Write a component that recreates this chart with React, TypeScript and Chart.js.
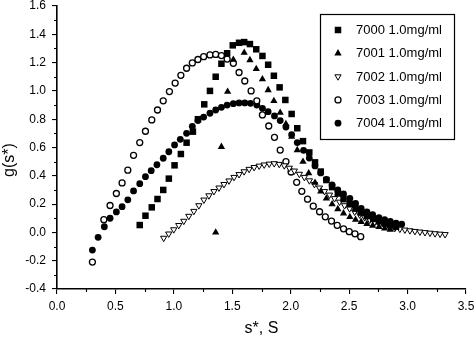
import { useEffect, useRef } from "react";
import { Chart, registerables } from "chart.js";
import { drawPoint } from "chart.js/helpers";

Chart.register(...registerables);

const seriesLabels = ["7000 1.0mg/ml", "7001 1.0mg/ml", "7002 1.0mg/ml", "7003 1.0mg/ml", "7004 1.0mg/ml"];

const s7000 = [0.708,0.757,0.811,0.860,0.909,0.957,1.006,1.060,1.109,1.163,1.206,1.260,1.309,1.358,1.407,1.456,1.504,1.558,1.602,1.651,1.705,1.758,1.807,1.856,1.905,1.954,2.008,2.056,2.105,2.159,2.208,2.257,2.305,2.354,2.403,2.452,2.506,2.555,2.603,2.652,2.706,2.755,2.804,2.852,2.901];
const g7000 = [0.052,0.118,0.177,0.236,0.3,0.38,0.474,0.554,0.634,0.712,0.8,0.905,1.0,1.1,1.192,1.266,1.322,1.34,1.345,1.331,1.294,1.247,1.185,1.107,1.025,0.936,0.837,0.736,0.645,0.565,0.495,0.43,0.37,0.32,0.275,0.235,0.2,0.168,0.14,0.115,0.095,0.078,0.062,0.05,0.04];

const s7001 = [1.358,1.407,1.460,1.509,1.602,1.651,1.705,1.758,1.807,1.856,1.910,1.959,2.008,2.056,2.105,2.154,2.208,2.257,2.305,2.354,2.403,2.452,2.506,2.555,2.603,2.652,2.701,2.755,2.804,2.852];
const g7001 = [0.0,0.605,0.995,1.22,1.27,1.218,1.155,1.083,1.006,0.929,0.846,0.766,0.676,0.582,0.5,0.418,0.351,0.29,0.24,0.2,0.165,0.135,0.11,0.09,0.075,0.06,0.048,0.038,0.028,0.02];

const s7002 = [0.913,0.956,0.999,1.042,1.085,1.128,1.171,1.214,1.257,1.300,1.343,1.386,1.429,1.472,1.515,1.558,1.601,1.644,1.687,1.730,1.773,1.816,1.859,1.902,1.945,1.988,2.031,2.074,2.117,2.160,2.203,2.246,2.289,2.332,2.375,2.418,2.461,2.504,2.547,2.590,2.633,2.676,2.719,2.762,2.805,2.848,2.891,2.934,2.977,3.020,3.063,3.106,3.149,3.192,3.235,3.278,3.321];
const g7002 = [-0.04,-0.01,0.02,0.05,0.08,0.115,0.15,0.19,0.23,0.26,0.29,0.315,0.34,0.365,0.39,0.41,0.43,0.447,0.46,0.47,0.478,0.484,0.487,0.482,0.472,0.455,0.435,0.412,0.39,0.366,0.34,0.315,0.29,0.265,0.24,0.215,0.19,0.168,0.145,0.125,0.105,0.088,0.072,0.058,0.047,0.038,0.03,0.024,0.018,0.013,0.008,0.004,0.0,-0.004,-0.008,-0.011,-0.014];

const s7003 = [0.303,0.401,0.454,0.508,0.557,0.606,0.655,0.708,0.757,0.811,0.860,0.909,0.962,1.011,1.060,1.109,1.158,1.206,1.255,1.309,1.358,1.407,1.456,1.509,1.558,1.607,1.661,1.710,1.758,1.812,1.861,1.910,1.959,2.003,2.051,2.095,2.144,2.193,2.247,2.296,2.349,2.398,2.452,2.501,2.550,2.599];
const g7003 = [-0.21,0.09,0.19,0.275,0.35,0.44,0.545,0.635,0.715,0.795,0.865,0.93,0.995,1.055,1.11,1.16,1.198,1.222,1.242,1.254,1.258,1.25,1.225,1.195,1.13,1.07,1.0,0.93,0.83,0.752,0.672,0.582,0.5,0.427,0.354,0.29,0.235,0.185,0.146,0.11,0.08,0.05,0.025,0.005,-0.01,-0.03];

const s7004 = [0.303,0.352,0.405,0.454,0.508,0.557,0.606,0.655,0.708,0.757,0.806,0.855,0.909,0.957,1.006,1.055,1.109,1.158,1.206,1.255,1.309,1.358,1.407,1.456,1.509,1.558,1.607,1.656,1.710,1.758,1.807,1.861,1.910,1.959,2.008,2.056,2.110,2.159,2.208,2.257,2.305,2.354,2.403,2.452,2.506,2.555,2.603,2.652,2.701,2.755,2.804,2.852,2.901,2.950];
const g7004 = [-0.125,-0.035,0.04,0.1,0.145,0.182,0.23,0.293,0.344,0.394,0.436,0.478,0.524,0.57,0.618,0.658,0.7,0.75,0.79,0.815,0.842,0.865,0.884,0.9,0.91,0.915,0.915,0.912,0.9,0.877,0.853,0.823,0.79,0.745,0.69,0.635,0.58,0.525,0.47,0.42,0.375,0.335,0.3,0.272,0.24,0.205,0.17,0.145,0.125,0.105,0.09,0.078,0.066,0.058];

const yMinorTicks = [-0.3,-0.1,0.1,0.3,0.5,0.7,0.9,1.1,1.3,1.5];
const xMinorTicks = [0.25,0.75,1.25,1.75,2.25,2.75,3.25];

const xTitle = "s*, S";
const yTitle = "g(s*)";

const FONT = "'Liberation Sans', Arial, sans-serif";

const styles = [
  { pointStyle: "rect", radius: 4.6, rotation: 0, fill: "#000", borderWidth: 0 },
  { pointStyle: "triangle", radius: 4.2, rotation: 0, fill: "#000", borderWidth: 0 },
  { pointStyle: "triangle", radius: 3.6, rotation: 180, fill: "#fff", borderWidth: 1 },
  { pointStyle: "circle", radius: 3.0, rotation: 0, fill: "#fff", borderWidth: 1.3 },
  { pointStyle: "circle", radius: 3.4, rotation: 0, fill: "#000", borderWidth: 0 },
];

const zip = (xs: number[], ys: number[]) => xs.map((x, i) => ({ x, y: ys[i] }));

const extras = {
  id: "extras",
  afterDraw(chart: any) {
    const { ctx, chartArea, scales } = chart;
    const x = scales.x;
    const y = scales.y;
    ctx.save();
    ctx.strokeStyle = "#000";
    ctx.lineWidth = 1.1;
    ctx.beginPath();
    yMinorTicks.forEach((v) => {
      const py = Math.round(y.getPixelForValue(v)) + 0.5;
      ctx.moveTo(chartArea.left - 3, py);
      ctx.lineTo(chartArea.left, py);
    });
    xMinorTicks.forEach((v) => {
      const px = Math.round(x.getPixelForValue(v)) + 0.5;
      ctx.moveTo(px, chartArea.bottom);
      ctx.lineTo(px, chartArea.bottom + 3);
    });
    ctx.stroke();

    ctx.fillStyle = "#000";
    ctx.font = `16px ${FONT}`;
    ctx.textAlign = "center";
    ctx.textBaseline = "middle";
    ctx.fillText(xTitle, (chartArea.left + chartArea.right) / 2, 329);
    ctx.save();
    ctx.translate(10, 160);
    ctx.rotate(-Math.PI / 2);
    ctx.fillText(yTitle, 0, 0);
    ctx.restore();

    const bx = 320, by = 14, bw = 134, bh = 125;
    ctx.lineWidth = 1.2;
    ctx.strokeStyle = "#000";
    ctx.strokeRect(bx + 0.5, by + 0.5, bw, bh);
    ctx.font = `13px ${FONT}`;
    ctx.textAlign = "left";
    ctx.textBaseline = "middle";
    seriesLabels.forEach((label, i) => {
      const ry = by + 16 + i * 23.3;
      const st = styles[i];
      ctx.fillStyle = st.fill;
      ctx.strokeStyle = "#000";
      ctx.lineWidth = st.borderWidth || 0;
      drawPoint(ctx, { pointStyle: st.pointStyle, radius: st.radius, rotation: st.rotation, borderWidth: st.borderWidth } as any, 338, ry);
      ctx.fillStyle = "#000";
      ctx.fillText(label, 356, ry + 0.5);
    });
    ctx.restore();
  },
};

export default function App() {
  const ref = useRef<HTMLCanvasElement | null>(null);
  useEffect(() => {
    if (!ref.current) return;
    const sets = [zip(s7000, g7000), zip(s7001, g7001), zip(s7002, g7002), zip(s7003, g7003), zip(s7004, g7004)];
    const chart = new Chart(ref.current, {
      type: "scatter",
      data: {
        datasets: sets.map((d, i) => ({
          label: seriesLabels[i],
          data: d,
          pointStyle: styles[i].pointStyle as any,
          pointRadius: styles[i].radius,
          pointRotation: styles[i].rotation,
          pointBackgroundColor: styles[i].fill,
          pointBorderColor: "#000",
          pointBorderWidth: styles[i].borderWidth,
          showLine: false,
        })),
      },
      options: {
        animation: false,
        responsive: false,
        events: [],
        layout: { padding: { top: 6, right: 24, left: 0, bottom: 0 } },
        plugins: { legend: { display: false }, tooltip: { enabled: false }, title: { display: false } },
        scales: {
          x: {
            type: "linear",
            min: 0,
            max: 3.5,
            afterFit: (s: any) => { s.height = 64; s.paddingLeft = 0; s.paddingRight = 0; },
            ticks: {
              stepSize: 0.5,
              autoSkip: false,
              maxRotation: 0,
              padding: 5,
              color: "#000",
              font: { family: FONT, size: 12 },
              callback: (v: any) => Number(v).toFixed(1),
            },
            grid: { display: true, drawOnChartArea: false, drawTicks: true, tickLength: 5, color: "#000", lineWidth: 1.1 },
            border: { display: true, color: "#000", width: 1.6 },
          },
          y: {
            type: "linear",
            min: -0.4,
            max: 1.6,
            afterFit: (s: any) => { s.width = 57; s.paddingTop = 0; s.paddingBottom = 0; },
            ticks: {
              stepSize: 0.2,
              autoSkip: false,
              padding: 6,
              color: "#000",
              font: { family: FONT, size: 12 },
              callback: (v: any) => Number(v).toFixed(1),
            },
            grid: { display: true, drawOnChartArea: false, drawTicks: true, tickLength: 5, color: "#000", lineWidth: 1.1 },
            border: { display: true, color: "#000", width: 1.6 },
          },
        },
      },
      plugins: [extras],
    });
    return () => chart.destroy();
  }, []);
  return (
    <div style={{ position: "absolute", left: 0, top: 0, width: 474, height: 353, overflow: "hidden", background: "#fff" }}>
      <canvas ref={ref} width={490} height={353} style={{ display: "block", width: 490, height: 353 }} />
    </div>
  );
}
